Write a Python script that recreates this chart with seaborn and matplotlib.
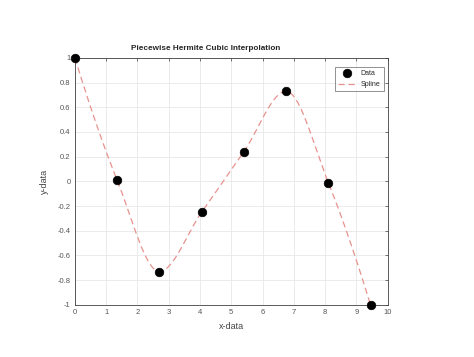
import numpy as np
import pandas as pd
import matplotlib
matplotlib.use("Agg")
import matplotlib.pyplot as plt
import seaborn as sns

x_data = [0.0, 1.35, 2.7, 4.05, 5.4, 6.75, 8.1, 9.45]
y_data = [1.0, 0.01, -0.73, -0.25, 0.24, 0.73, -0.01, -1.0]
x_ticks = list(range(0, 11))
y_ticks = [-1, -0.8, -0.6, -0.4, -0.2, 0, 0.2, 0.4, 0.6, 0.8, 1]
y_tick_labels = ["-1", "-0.8", "-0.6", "-0.4", "-0.2", "0", "0.2", "0.4", "0.6", "0.8", "1"]


def pchip_slopes(x, y):
    x = np.asarray(x, float); y = np.asarray(y, float)
    h = np.diff(x); delta = np.diff(y) / h
    n = len(x); d = np.zeros(n)
    for k in range(1, n - 1):
        if delta[k - 1] * delta[k] > 0:
            w1 = 2 * h[k] + h[k - 1]
            w2 = h[k] + 2 * h[k - 1]
            d[k] = (w1 + w2) / (w1 / delta[k - 1] + w2 / delta[k])
    def end(h0, h1, d0, d1):
        s = ((2 * h0 + h1) * d0 - h0 * d1) / (h0 + h1)
        if np.sign(s) != np.sign(d0):
            s = 0.0
        elif np.sign(d0) != np.sign(d1) and abs(s) > abs(3 * d0):
            s = 3 * d0
        return s
    d[0] = end(h[0], h[1], delta[0], delta[1])
    d[-1] = end(h[-1], h[-2], delta[-1], delta[-2])
    return d


def pchip_eval(x, y, xq):
    x = np.asarray(x, float); y = np.asarray(y, float)
    d = pchip_slopes(x, y)
    idx = np.clip(np.searchsorted(x, xq) - 1, 0, len(x) - 2)
    h = x[idx + 1] - x[idx]
    t = (xq - x[idx]) / h
    h00 = 2 * t**3 - 3 * t**2 + 1
    h10 = t**3 - 2 * t**2 + t
    h01 = -2 * t**3 + 3 * t**2
    h11 = t**3 - t**2
    return h00 * y[idx] + h10 * h * d[idx] + h01 * y[idx + 1] + h11 * h * d[idx + 1]


xq = np.linspace(x_data[0], x_data[-1], 400)
spline = pd.DataFrame({"x": xq, "y": pchip_eval(x_data, y_data, xq)})
points = pd.DataFrame({"x": x_data, "y": y_data})

sns.set_style("white")
plt.rcParams["font.family"] = ["Liberation Sans", "DejaVu Sans"]

fig = plt.figure(figsize=(4.74, 3.57), dpi=100)
ax = fig.add_axes([0.158, 0.146, 0.660, 0.692])

sns.scatterplot(data=points, x="x", y="y", ax=ax, color="black", s=38,
                edgecolor="black", linewidth=0.5, label="Data", zorder=3,
                clip_on=False)
sns.lineplot(data=spline, x="x", y="y", ax=ax, color="#e8928e", linewidth=0.9,
             dashes=False, label="Spline", zorder=2)
ax.lines[-1].set_dashes([5, 3])

ax.set_xlim(0, 10)
ax.set_ylim(-1, 1)
ax.set_xticks(x_ticks)
ax.set_xticklabels([str(t) for t in x_ticks])
ax.set_yticks(y_ticks)
ax.set_yticklabels(y_tick_labels)
ax.grid(True, color="#e8e8e8", linewidth=0.6)
ax.set_axisbelow(True)
ax.tick_params(direction="in", length=2.5, width=0.5, labelsize=5.5,
               colors="#404040", labelcolor="#555555", top=True, right=True, pad=3)
for s in ax.spines.values():
    s.set_color("#404040"); s.set_linewidth(0.6)

ax.set_title("Piecewise Hermite Cubic Interpolation", fontsize=5.9,
             fontweight="bold", pad=6, x=0.418)
ax.set_xlabel("x-data", fontsize=6.5, color="#444444", labelpad=4)
ax.set_ylabel("y-data", fontsize=6.5, color="#444444", labelpad=6)

leg = ax.legend(loc="upper right", bbox_to_anchor=(0.987, 0.964), fontsize=5,
                frameon=True, fancybox=False, borderaxespad=0, handlelength=2.4,
                borderpad=0.5, labelspacing=0.55, handletextpad=0.8)
leg.get_frame().set_edgecolor("#404040")
leg.get_frame().set_linewidth(0.5)

fig.savefig("out.png", dpi=100, facecolor="white")
